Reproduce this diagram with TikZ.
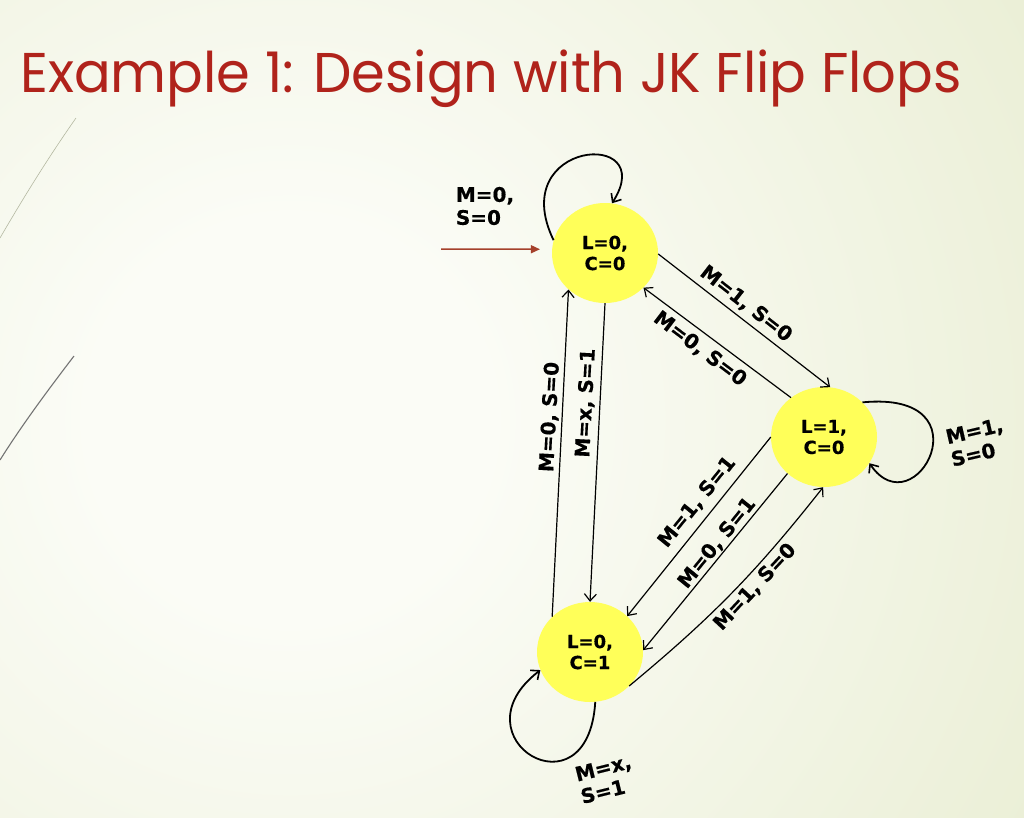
\documentclass[tikz,border=0pt]{standalone}
\usepackage{fontspec}
\usetikzlibrary{arrows.meta,shapes.geometric}
\newfontfamily\lblfont{DejaVu Sans}[BoldFeatures={FakeBold=0.5}]
\newfontfamily\titlefont{Poppins}
\definecolor{bgc0}{HTML}{FBFCF6}
\definecolor{bgc1}{HTML}{E7ECCF}
\definecolor{bgc2}{HTML}{DAE2B6}
\definecolor{bgc3}{HTML}{D5DEAD}
\definecolor{titlered}{HTML}{B0231B}
\definecolor{initred}{HTML}{A5402B}
\definecolor{stateyellow}{HTML}{FFFF59}
\pgfdeclareradialshading{bgshade}{\pgfpoint{0bp}{0bp}}{color(0bp)=(bgc0); color(5bp)=(bgc0); color(25bp)=(bgc1); color(42bp)=(bgc2); color(50bp)=(bgc3)}
\begin{document}
\begin{tikzpicture}[x=1pt,y=-1pt,
  state/.style={ellipse, fill=stateyellow, minimum width=106pt, minimum height=100pt, inner sep=0pt,
    align=center, font=\lblfont\bfseries\fontsize{18}{21}\selectfont},
  trans/.style={draw=black, line width=1.2pt, -{Straight Barb[length=7pt,width=12pt,line width=1.2pt]}},
  loopedge/.style={draw=black, line width=1.8pt, -{Straight Barb[length=7pt,width=12pt,line width=1.6pt]}},
  lbl/.style={font=\lblfont\bfseries\fontsize{20}{23}\selectfont, inner sep=0pt, text=black},
]
\useasboundingbox (0,0) rectangle (1024,817);
\begin{scope}
\clip (0,0) rectangle (1024,817);
\shade[shading=bgshade] (290,420) circle (1000);
\end{scope}
% decorative strokes
\draw[color=black!22!bgc1, line width=0.6pt] (0,238) .. controls (25,195) and (50,155) .. (76,118);
\draw[color=black!55, line width=1.1pt] (0,460) .. controls (22,425) and (48,390) .. (74,356);
% title
\node[anchor=base west, inner sep=0pt, text=titlered, xscale=0.97, font=\titlefont\fontsize{56}{60}\selectfont] (title) at (20,92) {Example 1: Design with JK Flip Flops};
% states
\node[state] (A) at (605,253) {L=0,\\C=0};
\node[state] (B) at (824,437) {L=1,\\C=0};
\node[state] (C) at (590,652) {L=0,\\C=1};
% initial arrow
\coordinate (init) at (441,249);
\draw[initred, line width=1.5pt, shorten >=12pt, -{Triangle[length=9pt,width=8pt]}] (init) -- (A.176);
% self loops
\draw[loopedge] (A.166) .. controls (505,140) and (660,128) .. (A.82)
  node[lbl, anchor=west, align=left] at (455,206) {M=0,\\S=0};
\draw[loopedge] (B.42) .. controls (990,390) and (915,530) .. (B.-30)
  node[lbl, align=left, rotate=13] at (977,442) {M=1,\\S=0};
\draw[loopedge] (C.-84) .. controls (588,820) and (452,738) .. (C.-160)
  node[lbl, align=left, rotate=14] at (606,779) {M=x,\\S=1};
% transitions
\draw[trans] (A.-1) -- (B.83)
  node[lbl, rotate=-38] at (746,304) {M=1, S=0};
\draw[trans] (B.130) -- (A.-42)
  node[lbl, rotate=-37] at (700,349) {M=0, S=0};
\draw[trans] (A.-90) -- (C.90)
  node[lbl, rotate=87] at (586,403) {M=x, S=1};
\draw[trans] (C.137) -- (A.-135)
  node[lbl, rotate=87] at (550,417) {M=0, S=0};
\draw[trans] (B.180) -- (C.44)
  node[lbl, rotate=51] at (697,502) {M=1, S=1};
\draw[trans] (B.-135) -- (C.2)
  node[lbl, rotate=51] at (717,543) {M=0, S=1};
\draw[trans] (C.-41) to[bend right=6] (B.-91);
\node[lbl, rotate=47] (lblCB) at (755,587) {M=1, S=0};
\end{tikzpicture}
\end{document}
